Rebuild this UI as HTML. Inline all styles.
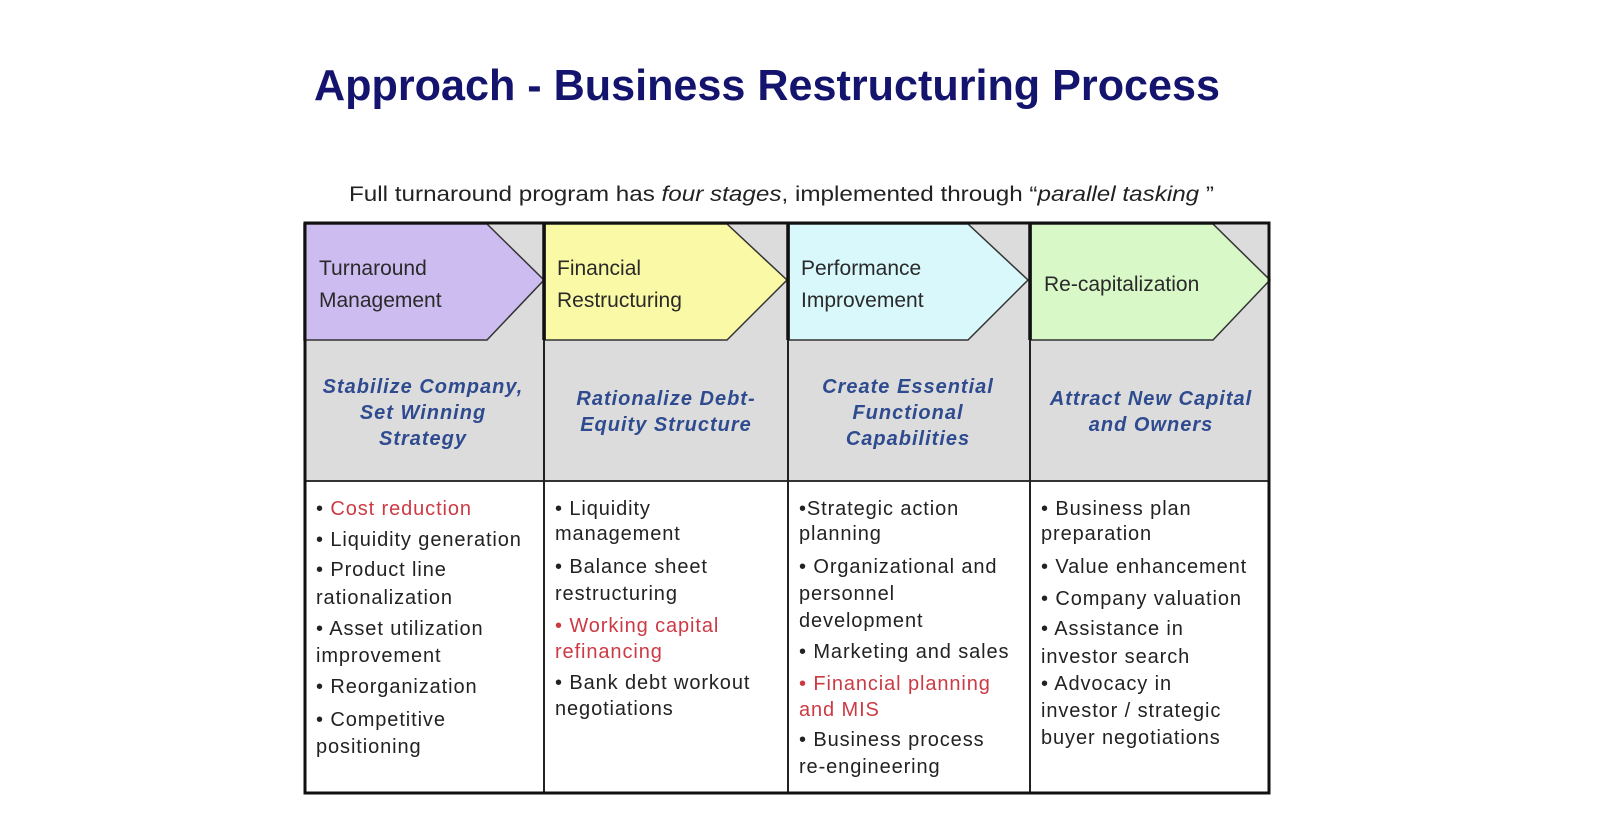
<!DOCTYPE html>
<html><head><meta charset="utf-8"><style>
html,body{margin:0;padding:0;background:#fff;}
svg{display:block;}
.h{font-family:"Liberation Sans",sans-serif;font-size:21px;fill:#2a2a2a;}
.g{font-family:"Liberation Sans",sans-serif;font-size:20px;font-weight:bold;font-style:italic;fill:#2f4b8f;letter-spacing:1px;}
.b{font-family:"Liberation Sans",sans-serif;font-size:20px;fill:#222;letter-spacing:0.9px;}
.r{fill:#cc3a44;}
</style></head><body>
<svg width="1616" height="832" viewBox="0 0 1616 832" xmlns="http://www.w3.org/2000/svg">
<rect width="1616" height="832" fill="#fff"/>
<text x="314" y="100" textLength="906" lengthAdjust="spacingAndGlyphs" font-family="Liberation Sans, sans-serif" font-weight="bold" font-size="44" fill="#14146e">Approach - Business Restructuring Process</text>
<text x="349" y="201" textLength="865" lengthAdjust="spacingAndGlyphs" font-family="Liberation Sans, sans-serif" font-size="21" fill="#222">Full turnaround program has <tspan font-style="italic">four stages</tspan>, implemented through “<tspan font-style="italic">parallel tasking</tspan> ”</text>
<rect x="304" y="222" width="966" height="259" fill="#dcdcdc"/>
<rect x="304" y="481" width="966" height="313" fill="#fff"/>
<polygon points="304,224 487,224 544,280 487,340 304,340" fill="#ccbcf0" stroke="#333" stroke-width="1.5"/>
<polygon points="545,224 727,224 787,280 727,340 545,340" fill="#fafaa6" stroke="#333" stroke-width="1.5"/>
<polygon points="789,224 968,224 1028,280 968,340 789,340" fill="#d8f8fc" stroke="#333" stroke-width="1.5"/>
<polygon points="1031,224 1213,224 1270,280 1213,340 1031,340" fill="#d8f8c8" stroke="#333" stroke-width="1.5"/>
<line x1="304" y1="481" x2="1270" y2="481" stroke="#333" stroke-width="2"/>
<line x1="544" y1="222" x2="544" y2="340" stroke="#111" stroke-width="3.5"/>
<line x1="788" y1="222" x2="788" y2="340" stroke="#111" stroke-width="3.5"/>
<line x1="1030" y1="222" x2="1030" y2="340" stroke="#111" stroke-width="3.5"/>
<line x1="544" y1="340" x2="544" y2="794" stroke="#222" stroke-width="2"/>
<line x1="788" y1="340" x2="788" y2="794" stroke="#222" stroke-width="2"/>
<line x1="1030" y1="340" x2="1030" y2="794" stroke="#222" stroke-width="2"/>
<rect x="305" y="223" width="964" height="570" fill="none" stroke="#111" stroke-width="3"/>
<text class="h" x="319" y="275">Turnaround</text><text class="h" x="319" y="307">Management</text>
<text class="h" x="557" y="275">Financial</text><text class="h" x="557" y="307">Restructuring</text>
<text class="h" x="801" y="275">Performance</text><text class="h" x="801" y="307">Improvement</text>
<text class="h" x="1044" y="291">Re-capitalization</text>
<g text-anchor="middle">
<text class="g" x="423" y="393">Stabilize Company,</text><text class="g" x="423" y="419">Set Winning</text><text class="g" x="423" y="445">Strategy</text>
<text class="g" x="666" y="405">Rationalize Debt-</text><text class="g" x="666" y="431">Equity Structure</text>
<text class="g" x="908" y="393">Create Essential</text><text class="g" x="908" y="419">Functional</text><text class="g" x="908" y="445">Capabilities</text>
<text class="g" x="1151" y="405">Attract New Capital</text><text class="g" x="1151" y="431">and Owners</text>
</g>
<text class="b" x="316" y="515">• <tspan class="r">Cost reduction</tspan></text>
<text class="b" x="316" y="546">• Liquidity generation</text>
<text class="b" x="316" y="576">• Product line</text>
<text class="b" x="316" y="604">rationalization</text>
<text class="b" x="316" y="635">• Asset utilization</text>
<text class="b" x="316" y="662">improvement</text>
<text class="b" x="316" y="693">• Reorganization</text>
<text class="b" x="316" y="726">• Competitive</text>
<text class="b" x="316" y="753">positioning</text>
<text class="b" x="555" y="515">• Liquidity</text>
<text class="b" x="555" y="540">management</text>
<text class="b" x="555" y="573">• Balance sheet</text>
<text class="b" x="555" y="600">restructuring</text>
<text class="b r" x="555" y="632">• Working capital</text>
<text class="b r" x="555" y="658">refinancing</text>
<text class="b" x="555" y="689">• Bank debt workout</text>
<text class="b" x="555" y="715">negotiations</text>
<text class="b" x="799" y="515">•Strategic action</text>
<text class="b" x="799" y="540">planning</text>
<text class="b" x="799" y="573">• Organizational and</text>
<text class="b" x="799" y="600">personnel</text>
<text class="b" x="799" y="627">development</text>
<text class="b" x="799" y="658">• Marketing and sales</text>
<text class="b r" x="799" y="690">• Financial planning</text>
<text class="b r" x="799" y="716">and MIS</text>
<text class="b" x="799" y="746">• Business process</text>
<text class="b" x="799" y="773">re-engineering</text>
<text class="b" x="1041" y="515">• Business plan</text>
<text class="b" x="1041" y="540">preparation</text>
<text class="b" x="1041" y="573">• Value enhancement</text>
<text class="b" x="1041" y="605">• Company valuation</text>
<text class="b" x="1041" y="635">• Assistance in</text>
<text class="b" x="1041" y="663">investor search</text>
<text class="b" x="1041" y="690">• Advocacy in</text>
<text class="b" x="1041" y="717">investor / strategic</text>
<text class="b" x="1041" y="744">buyer negotiations</text>
</svg>
</body></html>
